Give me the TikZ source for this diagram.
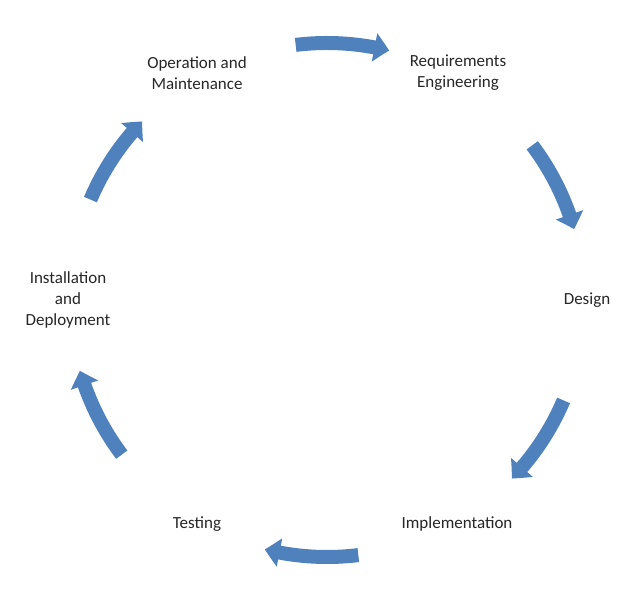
\documentclass[tikz,border=0pt]{standalone}
\usepackage{fontspec}
\setmainfont{Carlito}
\usetikzlibrary{arrows.meta,bending,calc}
\definecolor{cyc}{HTML}{4F81BD}
\begin{document}
\begin{tikzpicture}[x=1pt,y=1pt,
  lab/.style={align=center,font=\fontsize{17}{21}\selectfont,text=black!85},
  cycarrow/.style={draw=cyc,line width=14pt,-{Triangle[length=15pt,width=28pt,bend]}}]
\useasboundingbox (0,0) rectangle (640,591);
\coordinate (c) at (327,291);
\node[lab] (req) at (458,518) {Requirements\\Engineering};
\node[lab] (des) at (587,291) {Design};
\node[lab] (imp) at (457,67) {Implementation};
\node[lab] (tst) at (197,67) {Testing};
\node[lab] (ins) at (68,291) {Installation\\and\\Deployment};
\node[lab] (op) at (197,518) {Operation and\\Maintenance};
\foreach \k in {0,...,5}{
  \pgfmathsetmacro{\s}{97-60*\k}
  \pgfmathsetmacro{\e}{76-60*\k}
  \draw[cycarrow] ($(c)+(\s:257)$) arc[start angle=\s,end angle=\e,radius=257];
}
\end{tikzpicture}
\end{document}
